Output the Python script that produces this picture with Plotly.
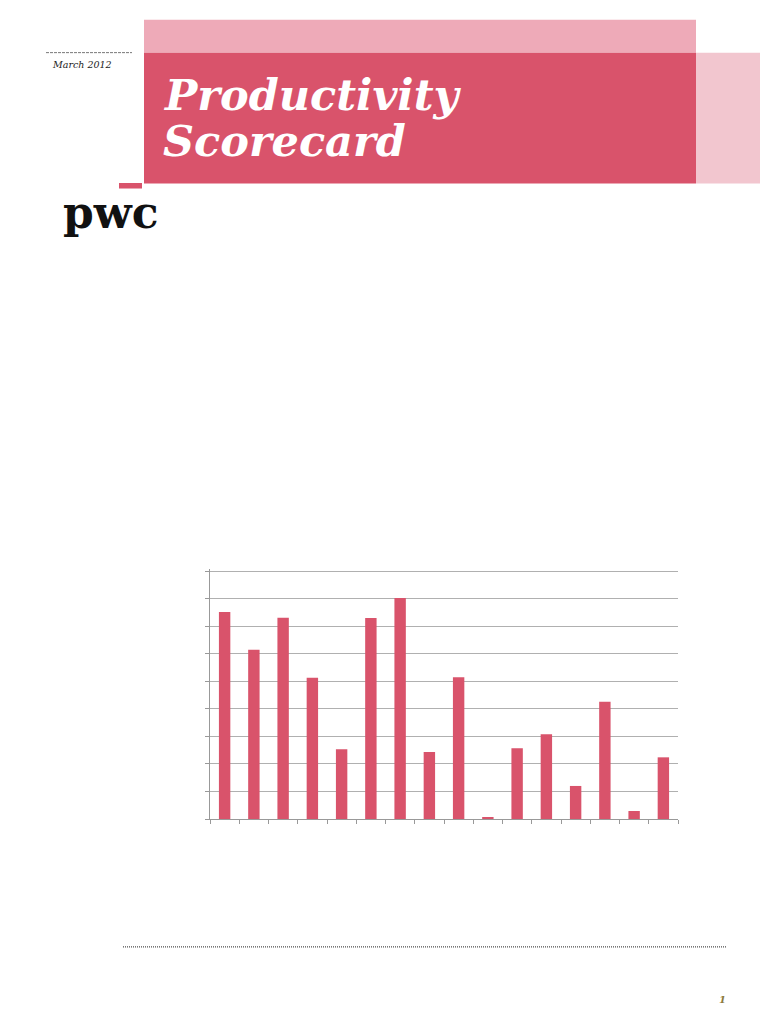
import plotly.graph_objects as go

# ---- data ----
categories = [str(i) for i in range(1, 17)]
values = [7.52, 6.15, 7.31, 5.13, 2.53, 7.30, 8.03, 2.43,
          5.15, 0.07, 2.57, 3.08, 1.20, 4.26, 0.29, 2.24]
y_max = 9
title_lines = ["Productivity", "Scorecard"]
date_text = "March 2012"
logo_text = "pwc"
page_text = "1"

OFF = 8  # page body margin
W, H = 768 - OFF, 1024 - OFF
TOP_PAD = 0.08  # extra headroom so the top gridline is drawn
L, R, B = 210, 678, 819
T = B - (B - 571) * (y_max + TOP_PAD) / y_max  # plot area in page pixels

def px(x):
    return (x - L) / (R - L)

def py(y):
    return (B - y) / (B - T)

BAR = "#D9536B"

fig = go.Figure(go.Bar(x=categories, y=values, marker=dict(color=BAR, line=dict(width=0))))

shapes = [
    dict(type="rect", xref="paper", yref="paper", x0=px(144), x1=px(696), y0=py(19), y1=py(52),
         fillcolor="#EEAAB8", line=dict(width=0), layer="below"),
    dict(type="rect", xref="paper", yref="paper", x0=px(144), x1=px(696), y0=py(52), y1=py(183),
         fillcolor="#D9536B", line=dict(width=0), layer="below"),
    dict(type="rect", xref="paper", yref="paper", x0=px(696), x1=px(770), y0=py(52), y1=py(183),
         fillcolor="#F2C6CF", line=dict(width=0), layer="below"),
    dict(type="rect", xref="paper", yref="paper", x0=px(119), x1=px(142), y0=py(182.5), y1=py(188),
         fillcolor="#D9536B", line=dict(width=0), layer="below"),
    dict(type="line", xref="paper", yref="paper", x0=px(46), x1=px(132), y0=py(52), y1=py(52),
         line=dict(color="#777777", width=1, dash="3px,1px")),
    dict(type="line", xref="paper", yref="paper", x0=px(123), x1=px(727), y0=py(947), y1=py(947),
         line=dict(color="#222222", width=1, dash="1px,1px")),
]

annotations = [
    dict(text=title_lines[0], x=px(161), y=py(94), xref="paper", yref="paper",
         xanchor="left", yanchor="middle", showarrow=False,
         font=dict(family="DejaVu Serif", size=43, color="white", weight="bold", style="italic")),
    dict(text=title_lines[1], x=px(161), y=py(140), xref="paper", yref="paper",
         xanchor="left", yanchor="middle", showarrow=False,
         font=dict(family="DejaVu Serif", size=43, color="white", weight="bold", style="italic")),
    dict(text=date_text, x=px(82), y=py(64), xref="paper", yref="paper",
         xanchor="center", yanchor="middle", showarrow=False,
         font=dict(family="DejaVu Serif", size=9.5, color="#222222", style="italic")),
    dict(text=logo_text, x=px(61), y=py(212), xref="paper", yref="paper",
         xanchor="left", yanchor="middle", showarrow=False,
         font=dict(family="DejaVu Serif", size=44, color="#111111", weight="bold")),
    dict(text=page_text, x=px(722), y=py(1000), xref="paper", yref="paper",
         xanchor="center", yanchor="middle", showarrow=False,
         font=dict(family="DejaVu Serif", size=10, color="#8C7A3C", weight="bold", style="italic")),
]

fig.update_layout(
    width=W, height=H,
    margin=dict(l=L - OFF, r=W - (R - OFF), t=T - OFF, b=H - (B - OFF), pad=0),
    paper_bgcolor="white", plot_bgcolor="white",
    bargap=0.61, showlegend=False,
    shapes=shapes, annotations=annotations,
    xaxis=dict(type="category", showticklabels=False, ticks="outside", ticklen=4,
               tickson="boundaries", tickcolor="#999999", showline=True, linecolor="#999999",
               linewidth=1, showgrid=False, zeroline=False),
    yaxis=dict(range=[0, y_max + TOP_PAD], dtick=1, showticklabels=False, ticks="outside", ticklen=4,
               tickcolor="#999999", showline=True, linecolor="#999999", linewidth=1,
               showgrid=True, gridcolor="#B0B0B0", gridwidth=1, zeroline=False),
)

fig.write_html("out.html", config={"displayModeBar": False})
